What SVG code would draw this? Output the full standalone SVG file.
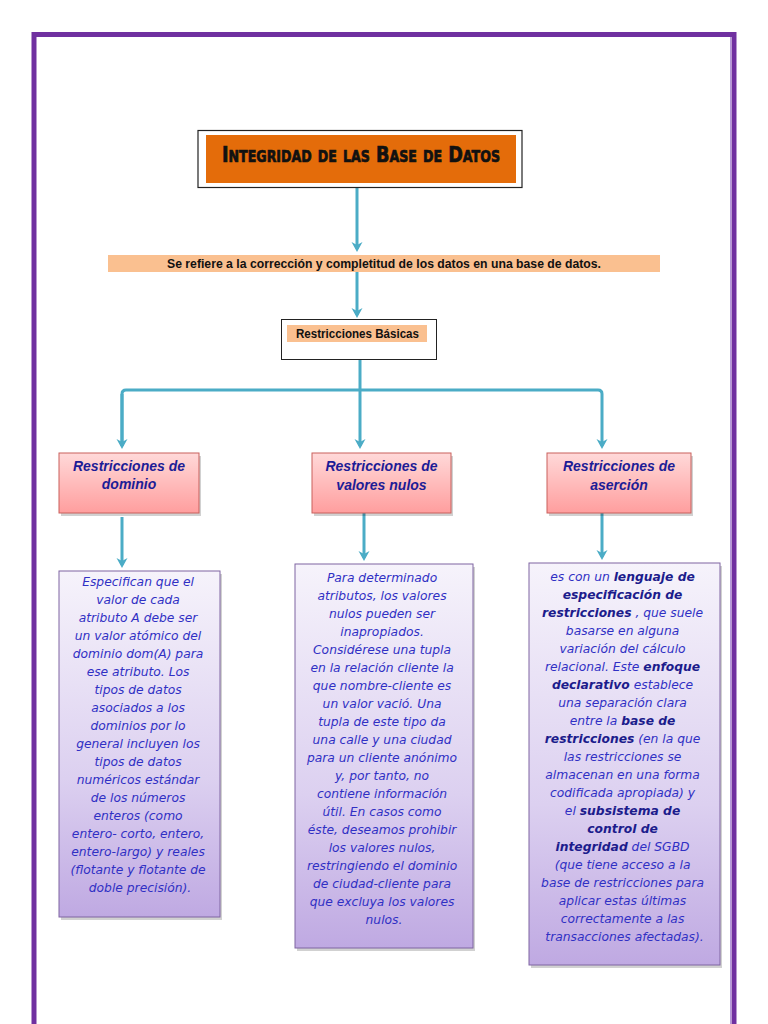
<svg xmlns="http://www.w3.org/2000/svg" width="768" height="1024" viewBox="0 0 768 1024">
<style>
.conn{fill:none;stroke:#4BACC6;stroke-width:3;stroke-linejoin:round}
.pink{fill:url(#gPink);stroke:#C9605C;stroke-width:1}
.lav{fill:url(#gLav);stroke:#7F64A2;stroke-width:1}
.shadow{fill:#000;opacity:0.18}
.ptitle{font-family:"Liberation Sans",Arial,sans-serif;font-weight:bold;font-style:italic;font-size:14px;fill:#1C1C96;text-anchor:middle}
.body{font-family:"DejaVu Sans",Verdana,sans-serif;font-style:italic;font-size:12.3px;fill:#3030C4;text-anchor:middle}
.b{font-weight:bold;fill:#1C1C8C}
.lbl{font-family:"Liberation Sans",Arial,sans-serif;font-weight:bold;font-size:13.5px;fill:#111;text-anchor:middle}
</style>
<defs>
<linearGradient id="gPink" x1="0" y1="0" x2="0" y2="1">
<stop offset="0" stop-color="#FFD9D9"/>
<stop offset="1" stop-color="#FF9E9E"/>
</linearGradient>
<linearGradient id="gLav" x1="0" y1="0" x2="0" y2="1">
<stop offset="0" stop-color="#F6F3FB"/>
<stop offset="0.6" stop-color="#DCD0F0"/>
<stop offset="1" stop-color="#BFA9E2"/>
</linearGradient>
<marker id="arr" viewBox="0 0 12 12" refX="8" refY="6" markerWidth="12" markerHeight="12" markerUnits="userSpaceOnUse" orient="auto">
<path d="M1,0.5 L11,6 L1,11.5 L4,6 Z" fill="#4BACC6"/>
</marker>
</defs>
<rect x="0" y="0" width="768" height="1024" fill="#FFFFFF"/>
<g id="page-border">
<rect x="34" y="34.5" width="700" height="1010" fill="none" stroke="#7030A0" stroke-width="5"/>
<line x1="730.5" y1="37" x2="730.5" y2="1024" stroke="#B79ADB" stroke-width="1"/>
</g>

<g id="connectors">
<path class="conn" d="M357,188 V249" marker-end="url(#arr)"/>
<path class="conn" d="M357,272 V315" marker-end="url(#arr)"/>
<path class="conn" d="M360,360 V446"  marker-end="url(#arr)"/>
<path class="conn" d="M122,446 V394 Q122,390 126,390 H598 Q602,390 602,394 V446" marker-end="url(#arr)"/>
<path class="conn" d="M122,394 V446" marker-end="url(#arr)"/>
<path class="conn" d="M122,517 V565" marker-end="url(#arr)"/>
<path class="conn" d="M364,513 V558" marker-end="url(#arr)"/>
<path class="conn" d="M602,511 V557" marker-end="url(#arr)"/>
</g>

<g id="title">
<rect x="198" y="130.5" width="324" height="57" fill="#FFFFFF" stroke="#222" stroke-width="1.2"/>
<rect x="206" y="135" width="310" height="48" fill="#E46C0A"/>
<text x="361" y="162" font-family="'DejaVu Sans',Verdana,sans-serif" font-weight="bold" font-size="21" font-variant="small-caps" fill="#111" stroke="#111" stroke-width="0.7" text-anchor="middle" textLength="278" lengthAdjust="spacingAndGlyphs">Integridad de las Base de Datos</text>
</g>

<g id="definition">
<rect x="108" y="255" width="552" height="17" fill="#FAC090"/>
<text class="lbl" x="384" y="268" textLength="434" lengthAdjust="spacingAndGlyphs">Se refiere a la corrección y completitud de los datos en una base de datos.</text>
</g>

<g id="restricciones-basicas">
<rect x="281.5" y="319.5" width="155" height="40" fill="#FFFFFF" stroke="#222" stroke-width="1"/>
<rect x="287" y="325" width="140" height="17" fill="#FAC090"/>
<text class="lbl" x="357.5" y="338" textLength="123" lengthAdjust="spacingAndGlyphs">Restricciones Básicas</text>
</g>

<g id="r-dominio">
<rect class="shadow" x="61" y="456" width="140" height="60"/>
<rect class="pink" x="59" y="453" width="140" height="60"/>
<text class="ptitle" x="129" y="471">Restricciones de</text>
<text class="ptitle" x="129" y="489">dominio</text>
</g>
<g id="r-nulos">
<rect class="shadow" x="314" y="456" width="139" height="60"/>
<rect class="pink" x="312" y="453" width="139" height="60"/>
<text class="ptitle" x="381.5" y="471">Restricciones de</text>
<text class="ptitle" x="381.5" y="490">valores nulos</text>
</g>
<g id="r-asercion">
<rect class="shadow" x="549" y="456" width="144" height="60"/>
<rect class="pink" x="547" y="453" width="144" height="60"/>
<text class="ptitle" x="619" y="471">Restricciones de</text>
<text class="ptitle" x="619" y="490">aserción</text>
</g>

<g id="d-dominio">
<rect class="shadow" x="61" y="574" width="161" height="346"/>
<rect class="lav" x="59" y="571" width="161" height="346"/>
<text class="body">
<tspan x="140" y="586">Especifican que el</tspan>
<tspan x="140" y="604">valor de cada</tspan>
<tspan x="140" y="622">atributo A debe ser</tspan>
<tspan x="140" y="640">un valor atómico del</tspan>
<tspan x="140" y="658">dominio dom(A) para</tspan>
<tspan x="140" y="676">ese atributo. Los</tspan>
<tspan x="140" y="694">tipos de datos</tspan>
<tspan x="140" y="712">asociados a los</tspan>
<tspan x="140" y="730">dominios por lo</tspan>
<tspan x="140" y="748">general incluyen los</tspan>
<tspan x="140" y="766">tipos de datos</tspan>
<tspan x="140" y="784">numéricos estándar</tspan>
<tspan x="140" y="802">de los números</tspan>
<tspan x="140" y="820">enteros (como</tspan>
<tspan x="140" y="838">entero- corto, entero,</tspan>
<tspan x="140" y="856">entero-largo) y reales</tspan>
<tspan x="140" y="874">(flotante y flotante de</tspan>
<tspan x="140" y="892">doble precisión).</tspan>
</text>
</g>

<g id="d-nulos">
<rect class="shadow" x="297" y="567" width="178" height="384"/>
<rect class="lav" x="295" y="564" width="178" height="384"/>
<text class="body">
<tspan x="384" y="582">Para determinado</tspan>
<tspan x="384" y="600">atributos, los valores</tspan>
<tspan x="384" y="618">nulos pueden ser</tspan>
<tspan x="384" y="636">inapropiados.</tspan>
<tspan x="384" y="654">Considérese una tupla</tspan>
<tspan x="384" y="672">en la relación cliente la</tspan>
<tspan x="384" y="690">que nombre-cliente es</tspan>
<tspan x="384" y="708">un valor vació. Una</tspan>
<tspan x="384" y="726">tupla de este tipo da</tspan>
<tspan x="384" y="744">una calle y una ciudad</tspan>
<tspan x="384" y="762">para un cliente anónimo</tspan>
<tspan x="384" y="780">y, por tanto, no</tspan>
<tspan x="384" y="798">contiene información</tspan>
<tspan x="384" y="816">útil. En casos como</tspan>
<tspan x="384" y="834">éste, deseamos prohibir</tspan>
<tspan x="384" y="852">los valores nulos,</tspan>
<tspan x="384" y="870">restringiendo el dominio</tspan>
<tspan x="384" y="888">de ciudad-cliente para</tspan>
<tspan x="384" y="906">que excluya los valores</tspan>
<tspan x="384" y="924">nulos.</tspan>
</text>
</g>

<g id="d-asercion">
<rect class="shadow" x="531" y="566" width="191" height="402"/>
<rect class="lav" x="529" y="563" width="191" height="402"/>
<text class="body">
<tspan x="624.5" y="581">es con un <tspan class="b">lenguaje de</tspan></tspan>
<tspan x="624.5" y="599" class="b">especificación de</tspan>
<tspan x="624.5" y="617"><tspan class="b">restricciones</tspan> , que suele</tspan>
<tspan x="624.5" y="635">basarse en alguna</tspan>
<tspan x="624.5" y="653">variación del cálculo</tspan>
<tspan x="624.5" y="671">relacional. Este <tspan class="b">enfoque</tspan></tspan>
<tspan x="624.5" y="689"><tspan class="b">declarativo</tspan> establece</tspan>
<tspan x="624.5" y="707">una separación clara</tspan>
<tspan x="624.5" y="725">entre la <tspan class="b">base de</tspan></tspan>
<tspan x="624.5" y="743"><tspan class="b">restricciones</tspan> (en la que</tspan>
<tspan x="624.5" y="761">las restricciones se</tspan>
<tspan x="624.5" y="779">almacenan en una forma</tspan>
<tspan x="624.5" y="797">codificada apropiada) y</tspan>
<tspan x="624.5" y="815">el <tspan class="b">subsistema de</tspan></tspan>
<tspan x="624.5" y="833" class="b">control de</tspan>
<tspan x="624.5" y="851"><tspan class="b">integridad</tspan> del SGBD</tspan>
<tspan x="624.5" y="869">(que tiene acceso a la</tspan>
<tspan x="624.5" y="887">base de restricciones para</tspan>
<tspan x="624.5" y="905">aplicar estas últimas</tspan>
<tspan x="624.5" y="923">correctamente a las</tspan>
<tspan x="624.5" y="941">transacciones afectadas).</tspan>
</text>
</g>
</svg>
